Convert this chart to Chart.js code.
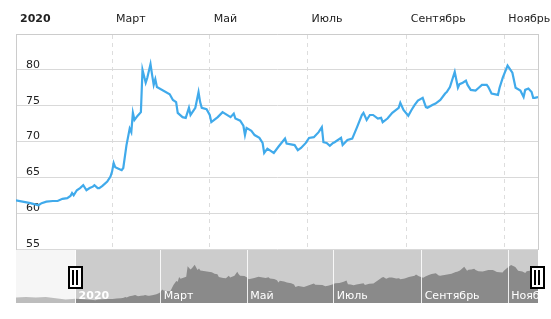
<!DOCTYPE html>
<html>
<head>
<meta charset="utf-8">
<script src="https://cdn.jsdelivr.net/npm/chart.js@4"></script>
<style>
  body { margin: 0; background: #fff; }
  #wrap { position: relative; width: 551px; height: 319px; }
  #main { position: absolute; left: 0; top: 0; }
  #nav { position: absolute; left: 0; top: 250px; }
</style>
</head>
<body>
<div id="wrap">
  <canvas id="main" width="551" height="250"></canvas>
  <canvas id="nav" width="551" height="69"></canvas>
</div>
<script>
// dates of the price series (the first few are only visible in the navigator)
const dates = [
  '2019-11-20','2019-11-27','2019-12-04','2019-12-11','2019-12-18','2019-12-25',
  '2020-01-01','2020-01-10','2020-01-15','2020-01-17','2020-01-20','2020-01-24','2020-01-27','2020-01-30',
  '2020-02-02','2020-02-04','2020-02-05','2020-02-06','2020-02-08','2020-02-10','2020-02-12','2020-02-14',
  '2020-02-16','2020-02-18','2020-02-19','2020-02-21','2020-02-22','2020-02-24','2020-02-27','2020-02-29',
  '2020-03-01','2020-03-02','2020-03-03','2020-03-05','2020-03-07','2020-03-08','2020-03-10','2020-03-12',
  '2020-03-13','2020-03-14','2020-03-15','2020-03-17','2020-03-19','2020-03-20','2020-03-22','2020-03-23',
  '2020-03-25','2020-03-26','2020-03-27','2020-03-28','2020-03-29','2020-04-06','2020-04-08','2020-04-10',
  '2020-04-11','2020-04-14','2020-04-16','2020-04-18','2020-04-19','2020-04-22','2020-04-24','2020-04-25',
  '2020-04-26','2020-04-29','2020-05-01','2020-05-02','2020-05-06','2020-05-09','2020-05-14','2020-05-16',
  '2020-05-17','2020-05-20','2020-05-22','2020-05-23','2020-05-24','2020-05-27','2020-05-29','2020-06-01',
  '2020-06-03','2020-06-04','2020-06-06','2020-06-10','2020-06-13','2020-06-17','2020-06-18','2020-06-23',
  '2020-06-25','2020-06-27','2020-06-30','2020-07-02','2020-07-05','2020-07-08','2020-07-10','2020-07-11',
  '2020-07-13','2020-07-15','2020-07-17','2020-07-18','2020-07-22','2020-07-23','2020-07-26','2020-07-29',
  '2020-08-01','2020-08-04','2020-08-05','2020-08-07','2020-08-09','2020-08-11','2020-08-14','2020-08-16',
  '2020-08-17','2020-08-20','2020-08-23','2020-08-27','2020-08-28','2020-08-30','2020-09-02','2020-09-04',
  '2020-09-06','2020-09-08','2020-09-11','2020-09-13','2020-09-14','2020-09-17','2020-09-19','2020-09-22',
  '2020-09-25','2020-09-26','2020-09-28','2020-10-01','2020-10-03','2020-10-04','2020-10-06','2020-10-08',
  '2020-10-09','2020-10-11','2020-10-14','2020-10-16','2020-10-18','2020-10-21','2020-10-22','2020-10-24',
  '2020-10-28','2020-10-29','2020-10-31','2020-11-03','2020-11-06','2020-11-08','2020-11-11','2020-11-13',
  '2020-11-14','2020-11-16','2020-11-18','2020-11-19','2020-11-20','2020-11-22'
];
const prices = [
  62.6, 62.9, 62.5, 62.8, 62.1, 61.4,
  61.8, 61.4, 61.1, 61.4, 61.6, 61.7, 61.7, 62.0,
  62.1, 62.4, 62.8, 62.5, 63.2, 63.5, 63.9, 63.2,
  63.5, 63.7, 63.9, 63.5, 63.5, 63.8, 64.4, 65.1,
  65.8, 67.0, 66.4, 66.2, 66.0, 66.3, 69.5, 71.8,
  71.3, 74.0, 73.0, 73.6, 74.1, 80.0, 78.2, 78.9,
  80.8, 79.3, 77.9, 78.7, 77.6, 76.6, 75.8, 75.5,
  74.0, 73.4, 73.3, 74.7, 73.7, 74.7, 76.9, 75.5,
  74.7, 74.5, 73.7, 72.7, 73.4, 74.1, 73.4, 73.9,
  73.2, 72.9, 72.2, 70.9, 71.9, 71.5, 70.9, 70.5,
  69.8, 68.4, 69.0, 68.4, 69.3, 70.4, 69.7, 69.5,
  68.8, 69.1, 69.8, 70.5, 70.6, 71.3, 72.0, 69.9,
  69.8, 69.4, 69.8, 69.9, 70.5, 69.5, 70.2, 70.4,
  72.0, 73.7, 74.0, 73.0, 73.7, 73.7, 73.2, 73.3,
  72.7, 73.2, 74.0, 74.7, 75.4, 74.4, 73.6, 74.4,
  75.1, 75.7, 76.1, 74.8, 74.7, 75.1, 75.3, 75.8,
  76.7, 76.9, 77.6, 79.7, 77.5, 78.0, 78.2, 78.5,
  77.9, 77.2, 77.1, 77.5, 77.9, 77.9, 77.6, 76.7,
  76.5, 77.5, 78.9, 80.6, 79.6, 77.5, 77.1, 76.2,
  77.2, 77.4, 76.9, 76.1, 76.1, 76.2
];

const tickDates = ['2020-01-01', '2020-03-01', '2020-05-01', '2020-07-01', '2020-09-01', '2020-11-01'];
const tickLabels = ['2020', 'Март', 'Май', 'Июль', 'Сентябрь', 'Ноябрь'];
const yTickValues = [55, 60, 65, 70, 75, 80, 85];

// visible window of the main chart, and the full navigator range
const windowStart = '2020-01-01';
const windowEnd = '2020-11-22';
const navStart = '2019-11-20';

// day number relative to 1 Jan 2020
function dayOf(s) {
  const [y, m, d] = s.split('-').map(Number);
  return (Date.UTC(y, m - 1, d) - Date.UTC(2020, 0, 1)) / 864e5;
}

const points = dates.map((d, i) => ({x: dayOf(d), y: prices[i]}));
const tickDays = tickDates.map(dayOf);
const FONT = 'DejaVu Sans';

function monthTicks(scale) {
  scale.ticks = tickDays.map(v => ({value: v}));
}
function tickLabel(value) {
  const i = tickDays.indexOf(value);
  return i >= 0 ? tickLabels[i] : '';
}
// keep the axes from reserving extra room for their labels
function noPadding(s) {
  s.paddingLeft = s.paddingRight = s.paddingTop = s.paddingBottom = 0;
}

Chart.defaults.font.family = FONT;
Chart.defaults.font.size = 11;
Chart.defaults.color = '#222';

new Chart(document.getElementById('main'), {
  type: 'line',
  data: {
    datasets: [{
      data: points,
      borderColor: '#40aaeb',
      borderWidth: 2.2,
      pointRadius: 0,
      tension: 0
    }]
  },
  options: {
    responsive: false,
    animation: false,
    layout: {padding: {left: 16, right: 13, top: 0, bottom: 1}},
    plugins: {legend: {display: false}, tooltip: {enabled: false}},
    scales: {
      x: {
        type: 'linear',
        position: 'top',
        min: dayOf(windowStart),
        max: dayOf(windowEnd),
        afterBuildTicks: monthTicks,
        afterFit: s => { s.height = 34; noPadding(s); },
        grid: {
          drawTicks: false,
          color: c => c.index === 0 ? 'rgba(0,0,0,0)' : '#dddddd'
        },
        border: {color: '#cccccc', dash: [4, 4]},
        ticks: {
          padding: 8,
          align: 'start',
          labelOffset: 4,
          maxRotation: 0,
          autoSkip: false,
          callback: tickLabel,
          font: c => ({family: FONT, size: 11, weight: c.index === 0 ? 'bold' : 'normal'})
        }
      },
      y: {
        position: 'left',
        min: 55,
        max: 85,
        afterBuildTicks: s => { s.ticks = yTickValues.map(v => ({value: v})); },
        afterFit: s => { s.width = 0; noPadding(s); },
        grid: {drawTicks: false, color: '#d9d9d9'},
        border: {color: '#cccccc'},
        ticks: {
          mirror: true,
          padding: 10,
          labelOffset: -5,
          callback: v => v === 85 ? '' : String(v)
        }
      },
      yRight: {
        position: 'right',
        afterFit: s => { s.width = 0; noPadding(s); },
        grid: {display: false},
        border: {color: '#cccccc'},
        ticks: {display: false}
      }
    }
  }
});

// navigator handles at both ends of the visible window
const handlesPlugin = {
  id: 'handles',
  afterDraw(chart) {
    const {ctx, chartArea, scales: {x}} = chart;
    [windowStart, windowEnd].forEach(d => {
      const px = Math.round(x.getPixelForValue(dayOf(d)));
      const top = chartArea.top + 16;
      ctx.fillStyle = '#000';
      ctx.fillRect(px - 8, top, 15, 23);
      ctx.fillStyle = '#fff';
      ctx.fillRect(px - 6, top + 2, 11, 19);
      ctx.fillStyle = '#000';
      ctx.fillRect(px - 4, top + 4, 2, 15);
      ctx.fillRect(px, top + 4, 2, 15);
    });
  }
};

const navMin = 59.5, navMax = 89;

new Chart(document.getElementById('nav'), {
  type: 'line',
  data: {
    datasets: [{
      data: points,
      borderWidth: 0,
      pointRadius: 0,
      tension: 0,
      fill: 'start',
      backgroundColor: '#8a8a8a',
      segment: {
        backgroundColor: c => c.p1.parsed.x <= dayOf(windowStart) ? '#bdbdbd' : '#8a8a8a'
      }
    }, {
      // selected window
      data: [{x: dayOf(windowStart), y: navMax}, {x: dayOf(windowEnd), y: navMax}],
      borderWidth: 0,
      pointRadius: 0,
      fill: 'start',
      backgroundColor: '#cccccc'
    }, {
      // area outside the window
      data: [{x: dayOf(navStart), y: navMax}, {x: dayOf(windowStart), y: navMax}],
      borderWidth: 0,
      pointRadius: 0,
      fill: 'start',
      backgroundColor: '#f6f6f6'
    }]
  },
  options: {
    responsive: false,
    animation: false,
    layout: {padding: {left: 16, right: 13, top: 0, bottom: 16}},
    plugins: {legend: {display: false}, tooltip: {enabled: false}},
    scales: {
      x: {
        type: 'linear',
        position: 'bottom',
        min: dayOf(navStart),
        max: dayOf(windowEnd),
        afterBuildTicks: monthTicks,
        afterFit: s => { s.height = 0; noPadding(s); },
        grid: {drawTicks: false, color: 'rgba(255,255,255,0.85)', z: 1},
        border: {display: false},
        ticks: {
          z: 1,
          mirror: true,
          padding: 0,
          align: 'start',
          labelOffset: 3,
          maxRotation: 0,
          autoSkip: false,
          color: '#ffffff',
          callback: tickLabel,
          font: c => ({family: FONT, size: 11, weight: c.index === 0 ? 'bold' : 'normal'})
        }
      },
      y: {
        display: false,
        min: navMin,
        max: navMax
      }
    }
  },
  plugins: [handlesPlugin]
});
</script>
</body>
</html>
